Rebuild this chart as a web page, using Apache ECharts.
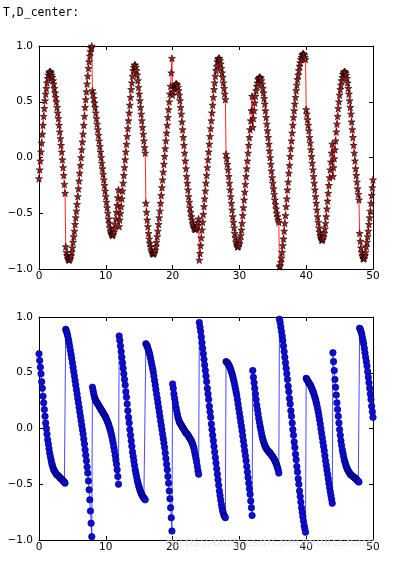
<!DOCTYPE html>
<html><head><meta charset="utf-8">
<script src="https://cdn.jsdelivr.net/npm/echarts@6/dist/echarts.min.js"></script>
<style>html,body{margin:0;padding:0;background:#fff;}#c{width:398px;height:561px;}</style>
</head><body><div id="c"></div>
<script>
const TITLE = 'T,D_center:';
const WATERMARK = 'https://blog.csdn.net/wolfcsharp';
const X_START = 0, X_STEP = 0.1;   // sample grid of both series (x = 0.0 ... 50.0)
const xTickValues = [0, 10, 20, 30, 40, 50];
const yTickValues = [-1, -0.5, 0, 0.5, 1];

// T (upper panel), one value per 0.1 step
const T = [
 -0.19,-0.11,-0.03,0.05,0.13,0.21,0.29,0.37,0.44,0.51, 0.57,0.62,0.67,0.71,0.74,0.76,0.77,0.77,0.76,0.74,
 0.72,0.69,0.66,0.62,0.58,0.54,0.50,0.45,0.40,0.35, 0.29,0.23,0.17,0.11,0.05,-0.02,-0.09,-0.16,-0.24,-0.32,
 -0.80,-0.85,-0.88,-0.90,-0.915,-0.92,-0.915,-0.90,-0.88,-0.85, -0.81,-0.76,-0.71,-0.66,-0.60,-0.54,-0.48,-0.42,-0.35,-0.28,
 -0.21,-0.14,-0.07,0.0,0.07,0.14,0.21,0.29,0.37,0.45, 0.52,0.59,0.66,0.73,0.80,0.86,0.91,0.95,0.98,1.0,
 0.60,0.57,0.53,0.49,0.45,0.40,0.35,0.30,0.25,0.20, 0.15,0.10,0.05,0.0,-0.05,-0.10,-0.15,-0.20,-0.25,-0.30,
 -0.35,-0.40,-0.45,-0.50,-0.55,-0.59,-0.63,-0.66,-0.68,-0.69, -0.70,-0.69,-0.67,-0.64,-0.60,-0.55,-0.49,-0.43,-0.36,-0.29,
 -0.62,-0.56,-0.50,-0.44,-0.37,-0.30,-0.23,-0.16,-0.09,-0.02, 0.05,0.12,0.19,0.26,0.33,0.40,0.47,0.54,0.61,0.67,
 0.73,0.78,0.81,0.83,0.83,0.81,0.78,0.74,0.69,0.63, 0.57,0.51,0.45,0.39,0.33,0.27,0.21,0.15,0.09,0.04,
 -0.41,-0.49,-0.56,-0.62,-0.68,-0.73,-0.77,-0.80,-0.83,-0.85, -0.86,-0.865,-0.86,-0.85,-0.83,-0.80,-0.76,-0.71,-0.66,-0.60,
 -0.54,-0.48,-0.41,-0.34,-0.27,-0.20,-0.13,-0.06,0.01,0.08, 0.15,0.22,0.29,0.36,0.43,0.50,0.57,0.64,0.76,0.89,
 0.56,0.59,0.62,0.64,0.65,0.66,0.66,0.65,0.63,0.60, 0.56,0.51,0.45,0.39,0.32,0.25,0.18,0.11,0.04,-0.03,
 -0.10,-0.17,-0.23,-0.29,-0.35,-0.40,-0.45,-0.49,-0.53,-0.56, -0.59,-0.61,-0.63,-0.64,-0.645,-0.64,-0.63,-0.61,-0.58,-0.55,
 -0.92,-0.86,-0.79,-0.72,-0.65,-0.58,-0.51,-0.44,-0.37,-0.30, -0.23,-0.16,-0.09,-0.02,0.05,0.12,0.19,0.26,0.33,0.40,
 0.47,0.54,0.61,0.67,0.73,0.78,0.82,0.86,0.88,0.89, 0.89,0.87,0.84,0.80,0.76,0.72,0.67,0.62,0.57,0.52,
 0.03,-0.01,-0.06,-0.11,-0.17,-0.23,-0.29,-0.35,-0.41,-0.47, -0.53,-0.58,-0.63,-0.68,-0.72,-0.76,-0.78,-0.80,-0.80,-0.79,
 -0.77,-0.74,-0.70,-0.65,-0.59,-0.52,-0.45,-0.38,-0.31,-0.24, -0.17,-0.10,-0.03,0.04,0.11,0.18,0.25,0.33,0.42,0.55,
 0.27,0.35,0.42,0.49,0.55,0.60,0.64,0.67,0.70,0.71, 0.72,0.72,0.71,0.69,0.66,0.62,0.58,0.53,0.48,0.42,
 0.36,0.30,0.24,0.18,0.12,0.06,0.0,-0.06,-0.12,-0.18, -0.23,-0.28,-0.33,-0.38,-0.42,-0.46,-0.50,-0.53,-0.56,-0.58,
 -0.98,-0.97,-0.94,-0.90,-0.85,-0.79,-0.73,-0.66,-0.59,-0.52, -0.44,-0.37,-0.29,-0.22,-0.14,-0.07,0.01,0.08,0.15,0.22,
 0.29,0.36,0.42,0.48,0.54,0.60,0.65,0.70,0.74,0.78, 0.82,0.85,0.88,0.90,0.92,0.93,0.93,0.92,0.90,0.88,
 0.43,0.39,0.34,0.29,0.24,0.18,0.13,0.07,0.01,-0.05, -0.11,-0.17,-0.23,-0.29,-0.35,-0.41,-0.47,-0.53,-0.58,-0.63,
 -0.67,-0.70,-0.72,-0.74,-0.74,-0.73,-0.71,-0.68,-0.64,-0.59, -0.53,-0.46,-0.39,-0.32,-0.25,-0.18,-0.11,-0.04,0.04,0.12,
 -0.17,-0.09,-0.01,0.07,0.15,0.23,0.30,0.37,0.44,0.50, 0.56,0.61,0.65,0.69,0.72,0.745,0.76,0.77,0.77,0.76,
 0.74,0.71,0.67,0.62,0.57,0.51,0.45,0.39,0.32,0.25, 0.18,0.11,0.04,-0.03,-0.10,-0.16,-0.22,-0.28,-0.33,-0.38,
 -0.68,-0.75,-0.81,-0.85,-0.88,-0.90,-0.91,-0.90,-0.88,-0.85, -0.80,-0.76,-0.71,-0.66,-0.60,-0.54,-0.48,-0.41,-0.34,-0.27,
 -0.20
];

// D_center (lower panel), one value per 0.1 step
const D_center = [
 0.67,0.61,0.55,0.49,0.42,0.36,0.29,0.23,0.17,0.11, 0.05,0.0,-0.05,-0.10,-0.14,-0.18,-0.22,-0.25,-0.28,-0.31,
 -0.33,-0.35,-0.37,-0.38,-0.39,-0.40,-0.41,-0.415,-0.42,-0.425, -0.43,-0.44,-0.445,-0.45,-0.455,-0.46,-0.47,-0.475,-0.48,-0.49,
 0.89,0.875,0.855,0.83,0.80,0.77,0.735,0.70,0.665,0.63, 0.59,0.55,0.51,0.47,0.43,0.39,0.35,0.31,0.27,0.23,
 0.19,0.15,0.11,0.07,0.03,-0.01,-0.05,-0.095,-0.14,-0.19, -0.24,-0.29,-0.345,-0.40,-0.47,-0.55,-0.64,-0.74,-0.85,-0.97,
 0.37,0.34,0.31,0.285,0.265,0.25,0.24,0.23,0.22,0.21, 0.20,0.19,0.18,0.17,0.16,0.15,0.14,0.13,0.12,0.11,
 0.10,0.085,0.07,0.055,0.04,0.02,0.0,-0.02,-0.045,-0.07, -0.10,-0.13,-0.165,-0.20,-0.24,-0.28,-0.32,-0.37,-0.43,-0.50,
 0.83,0.79,0.74,0.69,0.64,0.59,0.54,0.49,0.44,0.39, 0.33,0.28,0.22,0.16,0.10,0.05,-0.01,-0.06,-0.11,-0.16,
 -0.21,-0.25,-0.29,-0.33,-0.37,-0.40,-0.43,-0.46,-0.485,-0.51, -0.53,-0.55,-0.565,-0.58,-0.595,-0.605,-0.615,-0.625,-0.63,-0.64,
 0.76,0.75,0.74,0.72,0.70,0.68,0.66,0.63,0.60,0.57, 0.54,0.51,0.47,0.43,0.39,0.35,0.31,0.27,0.23,0.19,
 0.15,0.11,0.07,0.03,-0.01,-0.05,-0.09,-0.13,-0.17,-0.22, -0.27,-0.32,-0.37,-0.43,-0.49,-0.56,-0.63,-0.71,-0.80,-0.92,
 0.40,0.36,0.31,0.27,0.23,0.19,0.16,0.13,0.10,0.08, 0.06,0.05,0.04,0.03,0.02,0.01,0.0,-0.01,-0.02,-0.03,
 -0.04,-0.045,-0.05,-0.06,-0.07,-0.08,-0.09,-0.10,-0.11,-0.125, -0.14,-0.16,-0.18,-0.21,-0.24,-0.27,-0.30,-0.34,-0.38,-0.41,
 0.95,0.91,0.87,0.82,0.77,0.72,0.67,0.62,0.57,0.52, 0.47,0.42,0.36,0.31,0.26,0.20,0.15,0.10,0.04,-0.01,
 -0.06,-0.11,-0.16,-0.21,-0.26,-0.31,-0.36,-0.41,-0.46,-0.51, -0.56,-0.60,-0.64,-0.68,-0.71,-0.74,-0.76,-0.78,-0.79,-0.80,
 0.60,0.595,0.59,0.58,0.57,0.56,0.545,0.53,0.51,0.49, 0.47,0.445,0.42,0.39,0.36,0.33,0.30,0.26,0.22,0.18,
 0.14,0.10,0.06,0.02,-0.02,-0.065,-0.11,-0.155,-0.20,-0.245, -0.29,-0.34,-0.39,-0.44,-0.49,-0.54,-0.59,-0.65,-0.71,-0.78,
 0.52,0.46,0.41,0.36,0.31,0.26,0.21,0.17,0.13,0.09, 0.055,0.02,-0.01,-0.04,-0.07,-0.095,-0.115,-0.135,-0.15,-0.165,
 -0.175,-0.185,-0.195,-0.20,-0.21,-0.215,-0.22,-0.23,-0.24,-0.245, -0.255,-0.265,-0.275,-0.285,-0.30,-0.315,-0.33,-0.35,-0.37,-0.40,
 0.98,0.95,0.91,0.87,0.83,0.79,0.74,0.69,0.64,0.59, 0.54,0.49,0.44,0.38,0.33,0.27,0.22,0.16,0.11,0.05,
 -0.01,-0.06,-0.12,-0.17,-0.23,-0.28,-0.34,-0.39,-0.45,-0.50, -0.56,-0.61,-0.66,-0.71,-0.75,-0.79,-0.83,-0.87,-0.90,-0.93,
 0.45,0.44,0.43,0.42,0.41,0.40,0.39,0.38,0.365,0.35, 0.335,0.32,0.30,0.28,0.26,0.235,0.21,0.18,0.15,0.115,
 0.08,0.04,0.0,-0.04,-0.08,-0.12,-0.16,-0.20,-0.245,-0.29, -0.33,-0.37,-0.41,-0.45,-0.49,-0.53,-0.565,-0.60,-0.635,-0.67,
 0.68,0.60,0.52,0.44,0.37,0.30,0.23,0.17,0.11,0.05, -0.01,-0.06,-0.11,-0.15,-0.19,-0.22,-0.25,-0.28,-0.30,-0.32,
 -0.34,-0.355,-0.37,-0.38,-0.39,-0.40,-0.41,-0.415,-0.42,-0.425, -0.43,-0.435,-0.44,-0.445,-0.45,-0.455,-0.46,-0.47,-0.475,-0.48,
 0.90,0.89,0.87,0.85,0.82,0.79,0.76,0.72,0.68,0.64, 0.60,0.56,0.51,0.46,0.41,0.36,0.31,0.26,0.20,0.15,
 0.10
];

const STAR = 'path://M50,0 L61.8,35.1 L100,35.1 L69.1,57.6 L80.9,93.3 L50,70.8 L19.1,93.3 L30.9,57.6 L0,35.1 L38.2,35.1 Z';
const LABEL_FONT = 'DejaVu Sans';
const fmtY = v => v.toFixed(1).replace('-', '\u2212');
const toPairs = arr => arr.map((v, i) => [+(X_START + i * X_STEP).toFixed(1), v]);

const chart = echarts.init(document.getElementById('c'), null, {renderer: 'canvas'});

const grids = [
  {left: 39, top: 46, width: 334, height: 223},
  {left: 39, top: 317, width: 334, height: 223}
];
const lineCommon = {show: true, onZero: false, lineStyle: {color: '#000', width: 1}};
const tickCommon = {show: true, inside: true, length: 4, lineStyle: {color: '#000', width: 1}};
const xAxes = [], yAxes = [];
grids.forEach((g, gi) => {
  ['bottom', 'top'].forEach(pos => xAxes.push({
    gridIndex: gi, type: 'value', position: pos,
    min: xTickValues[0], max: xTickValues[xTickValues.length - 1], interval: xTickValues[1] - xTickValues[0],
    axisLine: lineCommon, axisTick: tickCommon, splitLine: {show: false},
    axisLabel: {show: pos === 'bottom', margin: 2, fontFamily: LABEL_FONT, fontSize: 10.5, color: '#000',
      formatter: v => String(v)}
  }));
  ['left', 'right'].forEach(pos => yAxes.push({
    gridIndex: gi, type: 'value', position: pos,
    min: yTickValues[0], max: yTickValues[yTickValues.length - 1], interval: yTickValues[1] - yTickValues[0],
    axisLine: lineCommon, axisTick: tickCommon, splitLine: {show: false},
    axisLabel: {show: pos === 'left', margin: 6, fontFamily: LABEL_FONT, fontSize: 10.5, color: '#000',
      formatter: fmtY}
  }));
});

chart.setOption({
  animation: false,
  backgroundColor: '#fff',
  grid: grids,
  xAxis: xAxes,
  yAxis: yAxes,
  series: [
    {
      type: 'line', xAxisIndex: 0, yAxisIndex: 0, data: toPairs(T),
      symbol: STAR, symbolSize: 7, showSymbol: true, showAllSymbol: true,
      lineStyle: {color: '#ff0000', width: 1, opacity: 0.85},
      itemStyle: {color: '#b81818', borderColor: '#000', borderWidth: 0.6},
      emphasis: {disabled: true}, clip: true
    },
    {
      type: 'line', xAxisIndex: 2, yAxisIndex: 2, data: toPairs(D_center),
      symbol: 'circle', symbolSize: 6.5, showSymbol: true, showAllSymbol: true,
      lineStyle: {color: '#2a2aff', width: 1, opacity: 0.85},
      itemStyle: {color: '#0d0ddb', borderColor: '#00005a', borderWidth: 0.6},
      emphasis: {disabled: true}, clip: true
    }
  ],
  graphic: [
    {type: 'text', left: 3, top: 7, style: {text: TITLE, font: '11.5px "DejaVu Sans Mono"', fill: '#000'}},
    {type: 'text', left: 166, top: 536, z: 100,
      style: {text: WATERMARK, font: '13px "DejaVu Sans"', fill: 'rgba(225,225,225,0.75)'}}
  ]
});
</script>
</body></html>
